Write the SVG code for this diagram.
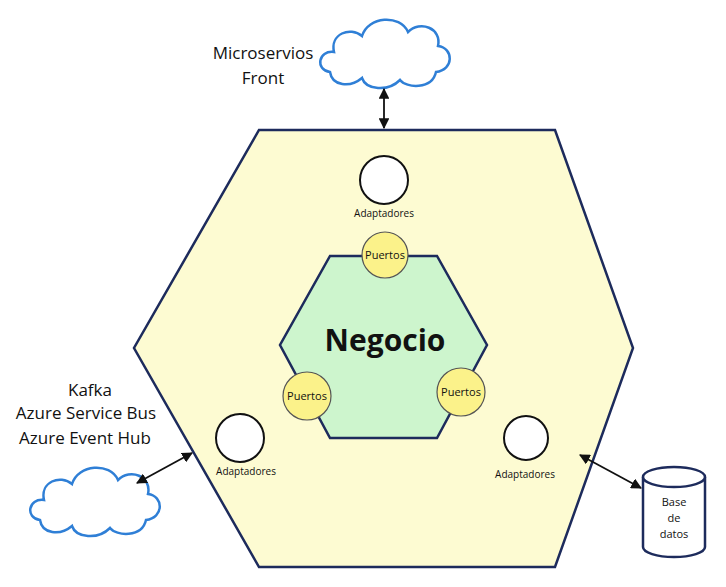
<svg xmlns="http://www.w3.org/2000/svg" width="726" height="587" viewBox="0 0 726 587">
<style>
.t{font-family:"Open Sans","Liberation Sans",sans-serif;fill:#111}
.hex{stroke:#1d2b5c;stroke-width:2.5}
.ad{fill:#fff;stroke:#111;stroke-width:2}
.pu{fill:#fbf28a;stroke:#555;stroke-width:1.2}
.cl{fill:#fff;stroke:#2f7fd6;stroke-width:2.5}
.ar{stroke:#111;stroke-width:1.8;fill:none;marker-start:url(#a);marker-end:url(#a)}
</style>
<defs>
<marker id="a" viewBox="0 0 10 10" refX="9" refY="5" markerWidth="6" markerHeight="6" orient="auto-start-reverse"><path d="M0,0L10,5L0,10z" fill="#111"/></marker>
<path id="cloud" d="M10,60 C-5,58 -2,38 14,40 C10,22 30,14 42,24 C48,4 80,2 88,20 C100,8 122,16 118,34 C134,36 134,58 116,60 C112,78 86,76 80,68 C68,80 46,78 42,66 C30,76 12,74 10,60 Z"/>
</defs>
<g id="outer"><polygon class="hex" fill="#fdfbd2" points="259,130 555,130 633,348 555,567 259,567 134,348"/></g>
<g id="inner"><polygon class="hex" fill="#cdf5cd" points="330,256 437,256 487,345 437,438 330,438 280,345"/>
<text class="t" x="385" y="351" font-size="30" font-weight="bold" text-anchor="middle">Negocio</text></g>
<g id="ad-top"><circle class="ad" cx="384" cy="180" r="24"/><text class="t" x="384" y="217" font-size="10" text-anchor="middle">Adaptadores</text></g>
<g id="ad-left"><circle class="ad" cx="240" cy="438" r="24"/><text class="t" x="246" y="475" font-size="10" text-anchor="middle">Adaptadores</text></g>
<g id="ad-right"><circle class="ad" cx="526" cy="438" r="22"/><text class="t" x="525" y="478" font-size="10" text-anchor="middle">Adaptadores</text></g>
<g id="pu-top"><circle class="pu" cx="385" cy="255" r="23"/><text class="t" x="385" y="259" font-size="11" text-anchor="middle">Puertos</text></g>
<g id="pu-left"><circle class="pu" cx="307" cy="396" r="24"/><text class="t" x="307" y="400" font-size="11" text-anchor="middle">Puertos</text></g>
<g id="pu-right"><circle class="pu" cx="461" cy="392" r="24"/><text class="t" x="461" y="396" font-size="11" text-anchor="middle">Puertos</text></g>
<g id="cloud-top"><use href="#cloud" class="cl" transform="translate(320,12)"/>
<text class="t" x="263" y="59" font-size="17" text-anchor="middle">Microservios</text><text class="t" x="263" y="84" font-size="17" text-anchor="middle">Front</text></g>
<g id="cloud-left"><use href="#cloud" class="cl" transform="translate(30,460)"/>
<text class="t" x="90" y="396" font-size="17" text-anchor="middle">Kafka</text>
<text class="t" x="86" y="419" font-size="17" text-anchor="middle">Azure Service Bus</text>
<text class="t" x="85" y="444" font-size="17" text-anchor="middle">Azure Event Hub</text></g>
<g id="db"><path d="M643,477 V547 A31,10 0 0 0 705,547 V477" fill="#fff" stroke="#1d2b5c" stroke-width="2.5"/><ellipse cx="674" cy="477" rx="31" ry="10" fill="#fff" stroke="#1d2b5c" stroke-width="2.5"/>
<text class="t" font-size="11" text-anchor="middle"><tspan x="674" y="506">Base</tspan><tspan x="674" y="522">de</tspan><tspan x="674" y="538">datos</tspan></text></g>
<g id="connectors">
<line class="ar" x1="384" y1="89" x2="384" y2="128"/>
<line class="ar" x1="137" y1="483" x2="192" y2="453"/>
<line class="ar" x1="580" y1="455" x2="641" y2="488"/>
</g>
</svg>
